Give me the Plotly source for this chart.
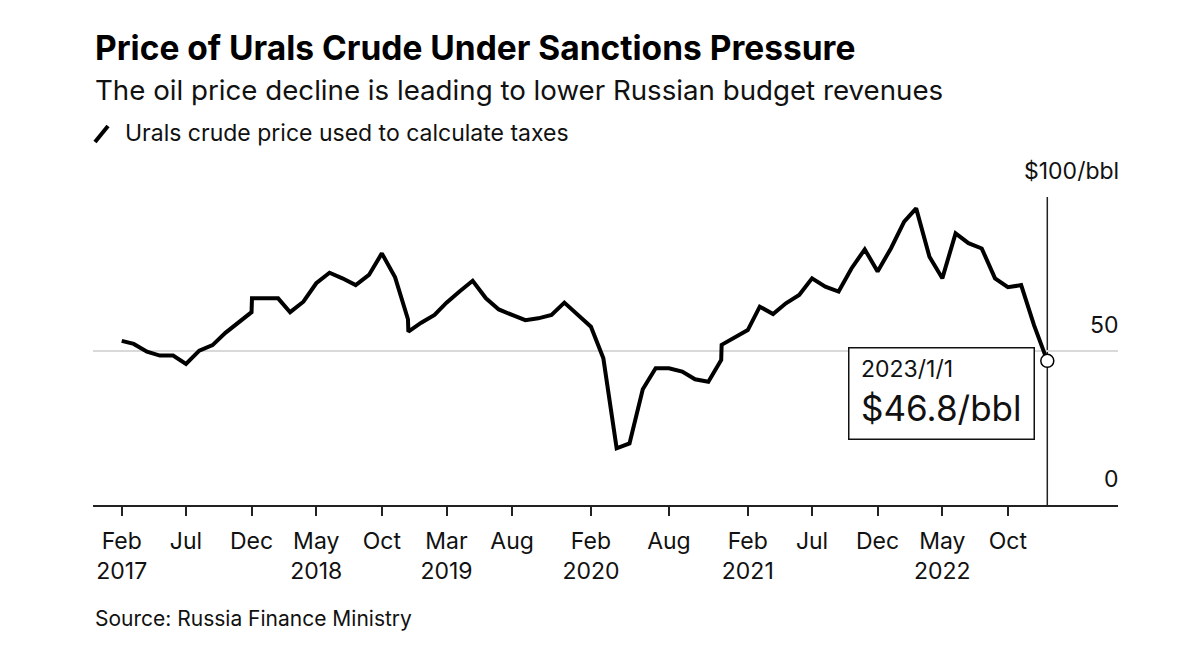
import plotly.graph_objects as go

# ---- data ----
dates = [
    "2017-02-01", "2017-03-01", "2017-04-01", "2017-05-01", "2017-06-01", "2017-07-01",
    "2017-08-01", "2017-09-01", "2017-10-01", "2017-11-01", "2017-12-01", "2017-12-02",
    "2018-01-01", "2018-02-01", "2018-03-01", "2018-04-01", "2018-05-01", "2018-06-01",
    "2018-07-01", "2018-08-01", "2018-09-01", "2018-10-01", "2018-11-01", "2018-12-01",
    "2018-12-02", "2019-01-01", "2019-02-01", "2019-03-01", "2019-04-01", "2019-05-01",
    "2019-06-01", "2019-07-01", "2019-08-01", "2019-09-01", "2019-10-01", "2019-11-01",
    "2019-12-01", "2020-01-01", "2020-02-01", "2020-03-01", "2020-04-01", "2020-05-01",
    "2020-06-01", "2020-07-01", "2020-08-01", "2020-09-01", "2020-10-01", "2020-11-01",
    "2020-12-01", "2020-12-02", "2021-01-01", "2021-02-01", "2021-03-01", "2021-04-01",
    "2021-05-01", "2021-06-01", "2021-07-01", "2021-08-01", "2021-09-01", "2021-10-01",
    "2021-11-01", "2021-12-01", "2022-01-01", "2022-02-01", "2022-03-01", "2022-04-01",
    "2022-05-01", "2022-06-01", "2022-07-01", "2022-08-01", "2022-09-01", "2022-10-01",
    "2022-11-01", "2022-12-01", "2023-01-01",
]
urals_price = [
    53.3, 52.3, 49.8, 48.5, 48.5, 45.8,
    50.1, 51.9, 55.9, 59.5, 62.6, 67.1,
    67.1, 67.1, 62.6, 66.0, 72.0, 75.4,
    73.6, 71.4, 74.7, 81.7, 73.9, 60.3,
    56.3, 59.2, 61.7, 65.7, 69.4, 72.8,
    67.1, 63.5, 61.7, 60.0, 60.6, 61.7,
    65.7, 61.7, 57.9, 47.6, 18.4, 20.0,
    37.6, 44.4, 44.4, 43.3, 40.8, 40.0,
    47.1, 52.0, 54.4, 56.8, 64.4, 62.0,
    65.5, 68.2, 73.6, 70.9, 69.3, 76.8,
    83.0, 75.8, 83.3, 92.0, 96.3, 80.6,
    73.6, 88.2, 85.0, 83.3, 73.6, 70.7,
    71.4, 58.4, 46.8,
]

tick_dates = ["2017-02-01", "2017-07-01", "2017-12-01", "2018-05-01", "2018-10-01",
              "2019-03-01", "2019-08-01", "2020-02-01", "2020-08-01", "2021-02-01",
              "2021-07-01", "2021-12-01", "2022-05-01", "2022-10-01"]
tick_labels = ["Feb<br>2017", "Jul", "Dec", "May<br>2018", "Oct", "Mar<br>2019", "Aug",
               "Feb<br>2020", "Aug", "Feb<br>2021", "Jul", "Dec", "May<br>2022", "Oct"]

y_ticks = [0, 50, 100]
y_tick_labels = ["0", "50", "$100/bbl"]

x_range = ["2016-11-26", "2023-06-15"]

callout_date_label = "2023/1/1"

FONT = "Inter, 'Liberation Sans', Arial, sans-serif"
INK = "#111111"

# plot area in pixels
L, R, T, B = 93, 1118, 197, 505
W, H = 1200, 660

def px(x):
    return (x - L) / (R - L)

def py(y):
    return (B - y) / (B - T)

fig = go.Figure()

fig.add_trace(go.Scatter(
    x=dates, y=urals_price, mode="lines",
    line=dict(color="#000000", width=4),
    hoverinfo="skip", showlegend=False,
))

# highlighted last point
fig.add_trace(go.Scatter(
    x=[dates[-1]], y=[urals_price[-1]], mode="markers",
    marker=dict(size=13, color="white", line=dict(color="#000000", width=1.5)),
    hoverinfo="skip", showlegend=False, cliponaxis=False,
))

# vertical reference line at the last date
fig.add_shape(type="line", xref="x", yref="y",
              x0=dates[-1], x1=dates[-1], y0=0, y1=100,
              line=dict(color="#222222", width=1.5), layer="below")

annotations = []
# y tick labels above gridlines at right edge
for v, t in zip(y_ticks, y_tick_labels):
    annotations.append(dict(
        x=1, xref="paper", y=v, yref="y", text=t, showarrow=False,
        xanchor="right", yanchor="bottom", yshift=10, xshift=3,
        font=dict(family=FONT, size=23, color=INK)))

# callout box (frame) and its two text lines, anchored to the last point
last_x, last_y = dates[-1], urals_price[-1]
annotations += [
    dict(x=last_x, y=last_y, xref="x", yref="y", text=" ",
         showarrow=False, xanchor="right", yanchor="top", xshift=-12, yshift=14,
         width=164, height=70, bgcolor="white", bordercolor="#111111",
         borderwidth=1.5, borderpad=10, font=dict(family=FONT, size=20, color=INK)),
    dict(x=last_x, y=last_y, xref="x", yref="y", text=callout_date_label,
         showarrow=False, xanchor="left", yanchor="bottom", xshift=-188, yshift=-24,
         font=dict(family=FONT, size=23, color=INK)),
    dict(x=last_x, y=last_y, xref="x", yref="y", text="$%.1f/bbl" % last_y,
         showarrow=False, xanchor="left", yanchor="top", xshift=-188, yshift=-24,
         font=dict(family=FONT, size=35, color=INK)),
]

# header texts
annotations += [
    dict(x=0, y=py(48), xref="paper", yref="paper", xanchor="left", yanchor="middle",
         text="<b>Price of Urals Crude Under Sanctions Pressure</b>", showarrow=False,
         font=dict(family=FONT, size=33.5, color="#000000")),
    dict(x=0, y=py(90), xref="paper", yref="paper", xanchor="left", yanchor="middle",
         text="The oil price decline is leading to lower Russian budget revenues",
         showarrow=False, font=dict(family=FONT, size=27.7, color=INK)),
    dict(x=px(123), y=py(133), xref="paper", yref="paper", xanchor="left", yanchor="middle",
         text="Urals crude price used to calculate taxes", showarrow=False,
         font=dict(family=FONT, size=23, color=INK)),
    dict(x=0, y=py(618), xref="paper", yref="paper", xanchor="left", yanchor="middle",
         text="Source: Russia Finance Ministry", showarrow=False,
         font=dict(family=FONT, size=21, color=INK)),
]

# legend glyph (slash)
fig.add_shape(type="line", xref="paper", yref="paper",
              x0=px(95), y0=py(142), x1=px(108), y1=py(126),
              line=dict(color="#000000", width=4))

fig.update_layout(
    width=W, height=H,
    margin=dict(l=L, r=W - R, t=T, b=H - B, pad=0),
    paper_bgcolor="white", plot_bgcolor="white",
    showlegend=False,
    annotations=annotations,
    xaxis=dict(
        type="date", range=x_range,
        tickmode="array", tickvals=tick_dates, ticktext=tick_labels,
        ticks="outside", ticklen=9, tickwidth=1.5, tickcolor="#222222",
        ticklabelstandoff=6,
        showline=True, linecolor="#222222", linewidth=1.5,
        showgrid=False, zeroline=False,
        tickfont=dict(family=FONT, size=23, color=INK),
    ),
    yaxis=dict(
        range=[0, 100], tickvals=y_ticks, showticklabels=False,
        showgrid=True, gridcolor="#d9d9d9", gridwidth=1.5,
        zeroline=False, showline=False, ticks="",
    ),
)

fig.write_html("out.html")
